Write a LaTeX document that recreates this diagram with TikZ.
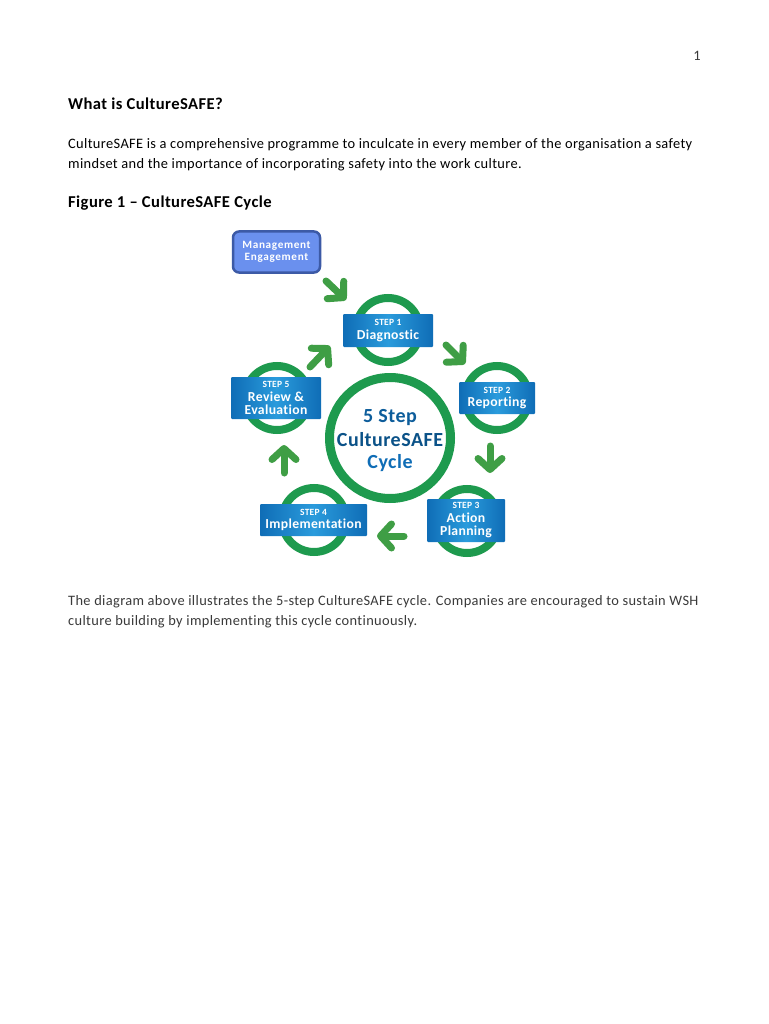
\documentclass[tikz,border=0pt]{standalone}
\usepackage{fontspec}
\setmainfont[LetterSpace=2.5,Ligatures=NoCommon]{Carlito}
\usetikzlibrary{arrows.meta}
\definecolor{ringgreen}{HTML}{1E9A4E}
\definecolor{arrowgreen}{HTML}{3F9E45}
\definecolor{boxedge}{HTML}{0F6DB6}
\definecolor{boxmid}{HTML}{2A9BDC}
\definecolor{mgmtfill}{HTML}{6A90EE}
\definecolor{mgmtedge}{HTML}{3C5AA6}
\definecolor{bodygrey}{HTML}{3A3A3A}

\begin{document}
\begin{tikzpicture}[
  x=1pt, y=-1pt,
  body/.style={
    anchor=west, align=left, inner sep=0pt, text=bodygrey,
    font=\fontsize{14.4}{19.6}\selectfont
  },
  headline/.style={
    anchor=west, inner sep=0pt, text=black,
    font=\fontsize{16.6}{19}\selectfont\bfseries
  },
  ring/.style={
    circle, draw=ringgreen, line width=8pt, fill=white,
    inner sep=0pt
  },
  stepbox/.style={
    rectangle, rounded corners=1pt, inner sep=0pt, align=center,
    text=white, left color=boxedge, right color=boxedge,
    middle color=boxmid,
    font=\fontsize{13.7}{13.5}\selectfont\bfseries
  },
  hubtext/.style={
    font=\fontsize{20}{25}\selectfont\bfseries
  },
  chunk/.style={
    draw=arrowgreen, line width=7pt, line cap=round,
    -{Straight Barb[round, length=11pt, width=24pt]}
  }
]
  \useasboundingbox[fill=white] (0,0) rectangle (768,1024);

  \node[body, anchor=center] (pageno) at (697,56){1};
  \node[headline] (title) at (68,104){What is CultureSAFE?};
  \node[body, text=black] (intro) at (68,154.5){CultureSAFE is a comprehensive programme to inculcate in every member of the organisation a safety\\mindset and the importance of incorporating safety into the work culture.};
  \node[headline] (figtitle) at (68,203){Figure 1 -- CultureSAFE Cycle};
  \node[body] (outro) at (68,611.5){The diagram above illustrates the 5-step CultureSAFE cycle. Companies are encouraged to sustain WSH\\culture building by implementing this cycle continuously.};

  % rings
  \foreach \n/\x/\y in {r1/388/330,r2/497/398,r3/467/521,r4/314/520,r5/277/398} {
    \node[ring, minimum size=64pt] (\n) at (\x,\y){};
  }
  \node[ring, line width=9pt, minimum size=121pt] (hub) at (390,438){};
  \node[hubtext, text=boxedge!85!black] (hubtop) at (390,418){5 Step};
  \node[hubtext, text=boxedge!75!black] (hubmid) at (390,440){CultureSAFE};
  \node[hubtext, text=boxedge] (hubbot) at (390,463){Cycle};

  % boxes
  \node[stepbox, minimum width=90pt, minimum height=33pt] (s1) at (388,330.5){{\fontsize{9.5}{9.5}\selectfont STEP 1}\\Diagnostic};
  \node[stepbox, minimum width=76pt, minimum height=32pt] (s2) at (497,398){{\fontsize{9.5}{9.5}\selectfont STEP 2}\\Reporting};
  \node[stepbox, minimum width=78pt, minimum height=43pt] (s3) at (466,520.5){{\fontsize{9.5}{9.5}\selectfont STEP 3}\\Action\\Planning};
  \node[stepbox, minimum width=107pt, minimum height=32pt] (s4) at (313.5,520){{\fontsize{9.5}{9.5}\selectfont STEP 4}\\Implementation};
  \node[stepbox, minimum width=90pt, minimum height=42pt] (s5) at (276,398){{\fontsize{9.5}{9.5}\selectfont STEP 5}\\Review \&\\Evaluation};
  \node[
    rectangle, rounded corners=6pt, draw=mgmtedge, line width=2.5pt,
    fill=mgmtfill, minimum width=87pt, minimum height=41pt,
    inner sep=0pt, align=center, text=white,
    font=\fontsize{11.2}{12}\selectfont\bfseries\addfontfeatures{LetterSpace=6}
  ] (mgmt) at (276.5,252){Management\\Engagement};

  % arrows
  \coordinate (a0) at (326,281);
  \coordinate (b0) at (346,300);
  \coordinate (a1) at (446,345);
  \coordinate (b1) at (465,364);
  \coordinate (a2) at (490,446);
  \coordinate (b2) at (490,473);
  \coordinate (a3) at (404,536);
  \coordinate (b3) at (377,536);
  \coordinate (a4) at (284,473);
  \coordinate (b4) at (284,445);
  \coordinate (a5) at (310,367);
  \coordinate (b5) at (330,346);
  \foreach \i in {0,...,5} {
    \draw[chunk] (a\i)--(b\i);
  }
\end{tikzpicture}
\end{document}
